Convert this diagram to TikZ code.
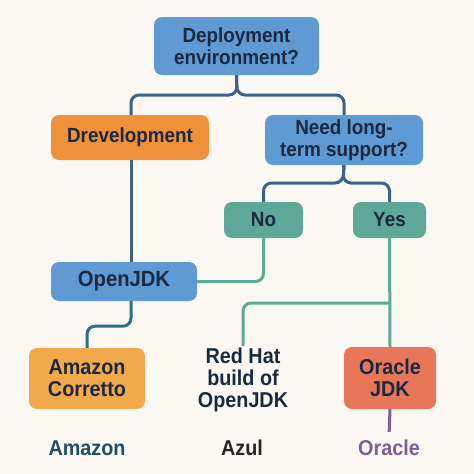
\documentclass[tikz,border=0pt]{standalone}
\usepackage{fontspec}
\setmainfont{Liberation Sans}[FakeStretch=0.92]
\usetikzlibrary{calc}
\definecolor{bg}{HTML}{FBF8F4}
\definecolor{boxblue}{HTML}{5F9AD3}
\definecolor{boxorange}{HTML}{EF913B}
\definecolor{boxteal}{HTML}{5FA898}
\definecolor{boxyellow}{HTML}{F2A94B}
\definecolor{boxred}{HTML}{E8775A}
\definecolor{txt}{HTML}{1A2940}
\definecolor{lineblue}{HTML}{3E6189}
\definecolor{lineteal}{HTML}{5DAA98}
\definecolor{linedteal}{HTML}{2F6F86}
\definecolor{linepurple}{HTML}{7C5E9E}
\definecolor{amz}{HTML}{1F4F63}
\tikzset{
  box/.style={rounded corners=8pt, inner sep=0pt, align=center, text=txt,
    font=\bfseries\fontsize{20.5}{21.5}\selectfont},
  conn/.style={line width=3pt, rounded corners=8pt},
  lbl/.style={font=\bfseries\fontsize{21.5}{22}\selectfont, inner sep=3pt}
}
\begin{document}
\begin{tikzpicture}[x=1pt,y=-1pt]
\fill[bg] (0,0) rectangle (474,474);
\useasboundingbox (0,0) rectangle (474,474);

\node[box, fill=boxblue, minimum width=165pt, minimum height=58pt] (top) at (236.5,46) {Deployment\\environment?};
\node[box, fill=boxorange, minimum width=158pt, minimum height=45pt] (dev) at (130,137.5) {Drevelopment};
\node[box, fill=boxblue, minimum width=158pt, minimum height=50pt] (need) at (344,140) {Need long-\\term support?};
\node[box, fill=boxteal, minimum width=79pt, minimum height=36pt] (no) at (263.5,220) {No};
\node[box, fill=boxteal, minimum width=73pt, minimum height=36pt] (yes) at (389.5,220) {Yes};
\node[box, fill=boxblue, minimum width=146pt, minimum height=39pt, font=\bfseries\fontsize{22}{22}\selectfont] (openjdk) at (124,281.5) {OpenJDK};
\node[box, fill=boxyellow, minimum width=116pt, minimum height=61pt, font=\bfseries\fontsize{21.5}{22}\selectfont] (corretto) at (87,378.5) {Amazon\\Corretto};
\node[align=center, text=txt, inner sep=2pt, font=\bfseries\fontsize{21.5}{22}\selectfont] (redhat) at (243,380) {Red Hat\\build of\\OpenJDK};
\node[box, fill=boxred, minimum width=92pt, minimum height=62pt, font=\bfseries\fontsize{21.5}{22}\selectfont] (oraclejdk) at (390,378) {Oracle\\JDK};

\node[lbl, text=amz] (lamazon) at (87,448) {Amazon};
\node[lbl, text=black!85] (lazul) at (242,448) {Azul};
\node[lbl, text=linepurple] (loracle) at (389,448) {Oracle};

\coordinate (j1) at (237,95);
\coordinate (j2) at (343,183);
\coordinate (j3) at (390,303);

\draw[conn, lineblue] (top.south) -- (j1) -| (dev.north -| 131,0);
\draw[conn, lineblue] (top.south) -- (j1) -| (need.north);
\draw[conn, lineblue] (need.south) -- (j2) -| (no.north);
\draw[conn, lineblue] (need.south) -- (j2) -| (yes.north);
\draw[conn, lineblue] (dev.south -| 131,0) -- (openjdk.north -| 131,0);
\draw[conn, lineteal] (no.south) |- (openjdk.east);
\draw[conn, lineteal] (yes.south) -- (oraclejdk.north);
\draw[conn, lineteal] (j3) -| (redhat.north);
\draw[conn, linedteal] (openjdk.south -| 131,0) -- ++(0,25) -| (corretto.north);
\draw[line width=3pt, linepurple, shorten >=5pt] (oraclejdk.south) -- (loracle.north);
\end{tikzpicture}
\end{document}
